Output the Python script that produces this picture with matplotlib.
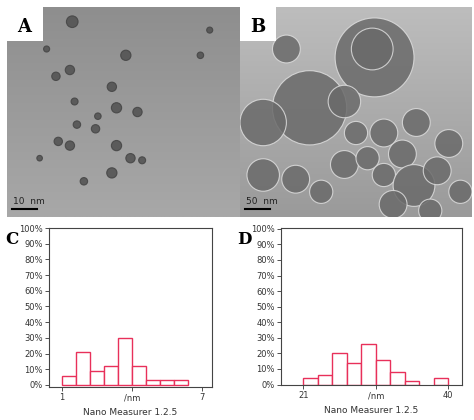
import numpy as np
import matplotlib
matplotlib.use("Agg")
import matplotlib.pyplot as plt
from matplotlib.patches import Rectangle, Ellipse

# Histogram data (percent)
c_edges_start = 1.0
c_bin_width = 0.6
c_values = [6, 21, 9, 12, 30, 12, 3, 3, 3]
d_edges_start = 21.0
d_bin_width = 1.9
d_values = [4, 6, 20, 14, 26, 16, 8, 2, 0, 4]
y_ticks = [0, 10, 20, 30, 40, 50, 60, 70, 80, 90, 100]
y_tick_labels = [f"{v}%" for v in y_ticks]
c_xticks = [1, 4, 7]
c_xticklabels = ["1", "/nm", "7"]
d_xticks = [21, 30.5, 40]
d_xticklabels = ["21", "/nm", "40"]

# TEM particle positions (x, y, r) in image fraction coordinates
a_particles = [(0.28, 0.93, 0.025), (0.51, 0.77, 0.022), (0.27, 0.70, 0.02), (0.21, 0.67, 0.018),
               (0.45, 0.62, 0.02), (0.29, 0.55, 0.015), (0.47, 0.52, 0.022), (0.56, 0.50, 0.02),
               (0.39, 0.48, 0.014), (0.38, 0.42, 0.018), (0.30, 0.44, 0.016), (0.22, 0.36, 0.018),
               (0.27, 0.34, 0.02), (0.47, 0.34, 0.022), (0.53, 0.28, 0.02), (0.58, 0.27, 0.015),
               (0.45, 0.21, 0.022), (0.33, 0.17, 0.016), (0.83, 0.77, 0.014), (0.87, 0.89, 0.013),
               (0.17, 0.80, 0.013), (0.14, 0.28, 0.012)]
b_particles = [(0.30, 0.52, 0.16), (0.58, 0.76, 0.17), (0.57, 0.80, 0.09), (0.10, 0.45, 0.10),
               (0.10, 0.20, 0.07), (0.24, 0.18, 0.06), (0.35, 0.12, 0.05), (0.45, 0.25, 0.06),
               (0.55, 0.28, 0.05), (0.62, 0.20, 0.05), (0.70, 0.30, 0.06), (0.75, 0.15, 0.09),
               (0.85, 0.22, 0.06), (0.90, 0.35, 0.06), (0.62, 0.40, 0.06), (0.76, 0.45, 0.06),
               (0.50, 0.40, 0.05), (0.66, 0.06, 0.06), (0.82, 0.03, 0.05), (0.95, 0.12, 0.05),
               (0.45, 0.55, 0.07), (0.20, 0.80, 0.06)]

fig = plt.figure(figsize=(4.74, 4.2), dpi=100)
fig.patch.set_facecolor("white")

def tem(ax, bg_top, bg_bot, parts, pcolor, edge, scale_text, letter, aspect):
    grad = np.linspace(0, 1, 200)[:, None] * np.ones((1, 200))
    ax.imshow(grad, extent=[0, 1, 0, 1], cmap=matplotlib.colors.LinearSegmentedColormap.from_list(
        "g", [bg_bot, bg_top]), origin="lower", aspect="auto")
    for (x, y, r) in parts:
        ax.add_patch(Ellipse((x, y), 2 * r, 2 * r * aspect, facecolor=pcolor,
                             edgecolor=edge, lw=0.8, alpha=0.85))
    ax.add_patch(Rectangle((0, 0.84), 0.155, 0.16, facecolor="white", edgecolor="none", zorder=5))
    ax.text(0.075, 0.905, letter, fontsize=13, fontweight="bold", family="DejaVu Serif",
            ha="center", va="center", zorder=6)
    ax.plot([0.02, 0.13], [0.04, 0.04], color="black", lw=1.5, zorder=6)
    ax.text(0.025, 0.06, scale_text, fontsize=6.5, color="#222222", zorder=6)
    ax.set_xlim(0, 1); ax.set_ylim(0, 1); ax.axis("off")

axA = fig.add_axes([7/474, 1-217/420, 233/474, 210/420])
tem(axA, "#8e8e8e", "#a8a8a8", a_particles, "#505050", "#444444", "10  nm", "A", 233/210)
axB = fig.add_axes([240/474, 1-217/420, 232/474, 210/420])
tem(axB, "#bdbdbd", "#9a9a9a", b_particles, "#6a6a6a", "#dddddd", "50  nm", "B", 232/210)

def hist(ax, start, w, vals, xl, xt, xtl):
    lefts = [start + i * w for i in range(len(vals))]
    for l, v in zip(lefts, vals):
        if v > 0:
            ax.bar(l, v, width=w, align="edge", facecolor="white", edgecolor="#e8305a", lw=1.0)
    ax.set_xlim(*xl); ax.set_ylim(-1.3, 100)
    ax.set_yticks(y_ticks); ax.set_yticklabels(y_tick_labels)
    ax.set_xticks(xt); ax.set_xticklabels(xtl)
    ax.tick_params(labelsize=6, length=3, width=0.6, colors="#333333", pad=1.5)
    for s in ax.spines.values():
        s.set_color("#444444"); s.set_linewidth(0.8)
    ax.set_xlabel("Nano Measurer 1.2.5", fontsize=6.5, color="#333333", labelpad=4)

axC = fig.add_axes([49/474, 33/420, 163/474, 159/420])
hist(axC, c_edges_start, c_bin_width, c_values, (0.44, 7.43), c_xticks, c_xticklabels)
axD = fig.add_axes([281/474, 35/420, 181/474, 157/420])
hist(axD, d_edges_start, d_bin_width, d_values, (18.1, 41.8), d_xticks, d_xticklabels)
axD.set_ylim(-0.3, 100.5)

fig.text(5/474, 1-240/420, "C", fontsize=12, fontweight="bold", family="DejaVu Serif", va="center")
fig.text(237/474, 1-240/420, "D", fontsize=12, fontweight="bold", family="DejaVu Serif", va="center")

fig.savefig("out.png", dpi=100)
